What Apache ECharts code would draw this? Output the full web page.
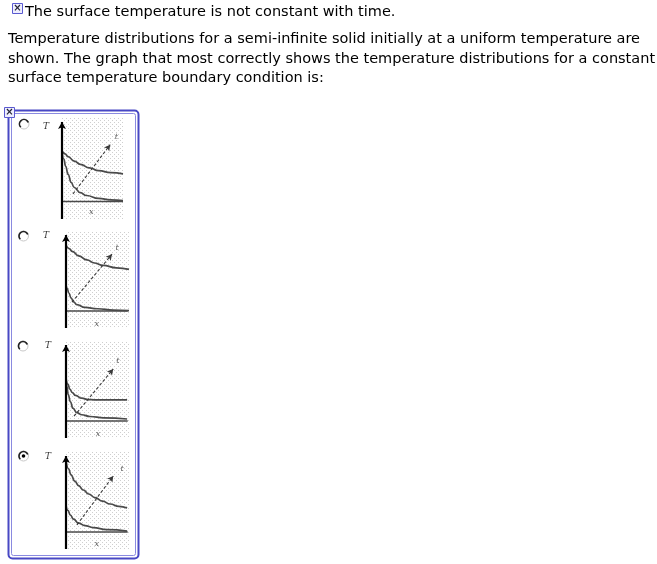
<!DOCTYPE html>
<html><head><meta charset="utf-8">
<script src="https://cdn.jsdelivr.net/npm/echarts@6/dist/echarts.min.js"></script>
<style>html,body{margin:0;padding:0;background:#fff}#c{width:657px;height:564px}</style>
</head><body><div id="c"></div>
<script>
// ---- text ----
const headerText = "The surface temperature is not constant with time.";
const questionLines = [
  "Temperature distributions for a semi-infinite solid initially at a uniform temperature are",
  "shown. The graph that most correctly shows the temperature distributions for a constant",
  "surface temperature boundary condition is:"
];
const axisLabelT = "T", axisLabelX = "x", arrowLabel = "t";
const selectedOption = 3;

// ---- curve data (x along solid, T above initial temperature) ----
const upper1 = [[0,6.35],[0.5,5.95],[1,5.6],[2,5.05],[3,4.65],[4.5,4.2],[6,3.85],[8,3.6],[10,3.45]];
const lower1 = [[0,6.35],[0.3,5.3],[0.6,4.4],[1,3.4],[1.5,2.4],[2,1.75],[3,1.1],[4,0.75],[6,0.38],[8,0.2],[10,0.12]];
const upper2 = [[0,8.25],[0.5,7.8],[1,7.45],[2,6.9],[3.3,6.4],[4.5,6.0],[5.9,5.7],[8,5.4],[10,5.2]];
const lower2 = [[0,3.3],[0.2,2.8],[0.45,2.25],[0.8,1.65],[1.2,1.15],[1.7,0.8],[3,0.45],[5,0.28],[7.5,0.12],[10,0.05]];
const upper3 = [[0,5.4],[0.3,4.6],[0.63,3.95],[1,3.55],[1.5,3.2],[2.5,2.85],[3.5,2.68],[4.5,2.65],[9.7,2.65]];
const lower3 = [[0,5.4],[0.15,4.3],[0.35,3.3],[0.7,2.4],[1.1,1.6],[1.7,1.05],[2.5,0.78],[3.8,0.56],[6,0.4],[9.7,0.25]];
const upper4 = [[0,9.0],[0.4,7.9],[0.8,7.15],[1.4,6.35],[2,5.8],[2.75,5.25],[3.6,4.75],[4.6,4.3],[5.8,3.85],[7,3.5],[8.4,3.2],[9.7,3.0]];
const lower4 = [[0,3.4],[0.3,2.7],[0.7,2.1],[1.2,1.6],[2,1.1],[3,0.8],[4.3,0.55],[6.5,0.3],[9.7,0.12]];
const upperCurves = [upper1, upper2, upper3, upper4];
const lowerCurves = [lower1, lower2, lower3, lower4];
const xAxisEnds = [10, 9.8, 9.8, 9.8];
const yAxisTops = [9.94, 9.5, 9.5, 9.5];
const tArrows = [[[1.8,0.95],[7.9,7.1]], [[0.95,1.1],[7.3,7.1]], [[1.27,0.6],[7.5,6.5]], [[1.75,0.9],[7.5,7.0]]];
const tLabelPos = [[8.9,8.1],[8.1,7.9],[8.25,7.5],[8.9,7.9]];
const xLabelPos = [[4.8,-1.3],[4.9,-1.6],[5.1,-1.6],[4.9,-1.5]];
const yRanges = [[-2.19,10.56],[-2.125,9.875],[-2.125,9.875],[-2.125,10]];

// ---- layout (pixels) ----
const grids = [
  {left:62, top:117, width:61, height:102},
  {left:66, top:232, width:63, height:96},
  {left:66, top:342, width:63, height:96},
  {left:66, top:452, width:63, height:97}
];
const radioPos = [[24,124],[23.5,236],[23,346],[23.5,456]];
const tPos = [[46,127],[46,236],[48,346],[48,457]];

// dotted pattern
const pc = document.createElement('canvas'); pc.width = 4; pc.height = 4;
const pctx = pc.getContext('2d');
pctx.fillStyle = '#ffffff'; pctx.fillRect(0,0,4,4);
pctx.fillStyle = '#cfcfcf'; pctx.fillRect(0,0,1,1); pctx.fillRect(2,2,1,1);

const chart = echarts.init(document.getElementById('c'), null, {renderer:'canvas'});
const xAxes = [], yAxes = [], series = [];
grids.forEach((g, i) => {
  xAxes.push({type:'value', gridIndex:i, min:0, max:10, show:false});
  yAxes.push({type:'value', gridIndex:i, min:yRanges[i][0], max:yRanges[i][1], show:false});
  const curveStyle = {color:'#4a4a4a', width:1.7};
  series.push({type:'line', xAxisIndex:i, yAxisIndex:i, data:upperCurves[i], smooth:true, smoothMonotone:'x', showSymbol:false, lineStyle:curveStyle, silent:true, clip:false});
  series.push({type:'line', xAxisIndex:i, yAxisIndex:i, data:lowerCurves[i], smooth:true, smoothMonotone:'x', showSymbol:false, lineStyle:curveStyle, silent:true, clip:false});
  series.push({type:'line', xAxisIndex:i, yAxisIndex:i, data:[[0,0],[xAxisEnds[i],0]], showSymbol:false, lineStyle:{color:'#4a4a4a', width:1.7}, silent:true, clip:false,
    markLine:{silent:true, animation:false, label:{show:false}, symbol:['none','arrow'],
      data:[
        [{coord:[0,yRanges[i][0]], symbol:'none', lineStyle:{color:'#000', width:2.2, type:'solid'}}, {coord:[0,yAxisTops[i]], symbol:'arrow', symbolSize:[6,7]}],
        [{coord:tArrows[i][0], symbol:'none', lineStyle:{color:'#3a3a3a', width:1.1, type:[3,2]}}, {coord:tArrows[i][1], symbol:'arrow', symbolSize:[5,6]}]
      ]}
  });
  series.push({type:'scatter', xAxisIndex:i, yAxisIndex:i, symbolSize:0, silent:true,
    data:[{value:tLabelPos[i], name:arrowLabel},{value:xLabelPos[i], name:axisLabelX}],
    label:{show:true, position:'inside', formatter:p => p.name, fontFamily:'DejaVu Serif', fontStyle:'italic', fontSize:8, color:'#333'}});
});

const graphic = [];
function brokenIcon(x, y) {
  graphic.push({type:'rect', shape:{x:x, y:y, width:10, height:10}, style:{fill:'#eef', stroke:'#5a5ad0', lineWidth:1}});
  graphic.push({type:'text', style:{text:'\u00d7', x:x+5, y:y+5, fontSize:10, fontWeight:'bold', fontFamily:'DejaVu Sans', fill:'#223', align:'center', verticalAlign:'middle'}});
}
graphic.push({type:'rect', shape:{x:8.5, y:110.5, width:130, height:448, r:4}, style:{fill:'none', stroke:'#4848c4', lineWidth:2}});
graphic.push({type:'rect', shape:{x:11.5, y:113.5, width:124, height:442, r:2}, style:{fill:'none', stroke:'#8a8ae0', lineWidth:1}});
brokenIcon(12.5, 3.5);
brokenIcon(4.5, 107.5);
graphic.push({type:'text', style:{text:headerText, x:25, y:12, fontSize:14.5, fontFamily:'DejaVu Sans', fill:'#000', verticalAlign:'middle'}});
questionLines.forEach((t, k) => {
  graphic.push({type:'text', style:{text:t, x:8, y:39.5 + k*19.5, fontSize:14.5, fontFamily:'DejaVu Sans', fill:'#000', verticalAlign:'middle'}});
});
radioPos.forEach((p, k) => {
  graphic.push({type:'circle', shape:{cx:p[0], cy:p[1], r:5}, style:{fill:'#fff', stroke:'#c8c8c8', lineWidth:1}});
  graphic.push({type:'arc', shape:{cx:p[0], cy:p[1], r:4.5, startAngle:Math.PI*0.75, endAngle:Math.PI*1.9}, style:{fill:'none', stroke:'#222', lineWidth:1.6}});
  if (k === selectedOption) graphic.push({type:'circle', shape:{cx:p[0], cy:p[1], r:1.8}, style:{fill:'#000'}});
  graphic.push({type:'text', style:{text:axisLabelT, x:tPos[k][0], y:tPos[k][1], fontSize:9, fontStyle:'italic', fontFamily:'DejaVu Serif', fill:'#333', align:'center', verticalAlign:'middle'}});
});

chart.setOption({
  animation:false,
  grid: grids.map(g => Object.assign({show:true, borderWidth:0, backgroundColor:{image:pc, repeat:'repeat'}}, g)),
  xAxis:xAxes, yAxis:yAxes, series:series, graphic:graphic
});
</script></body></html>
